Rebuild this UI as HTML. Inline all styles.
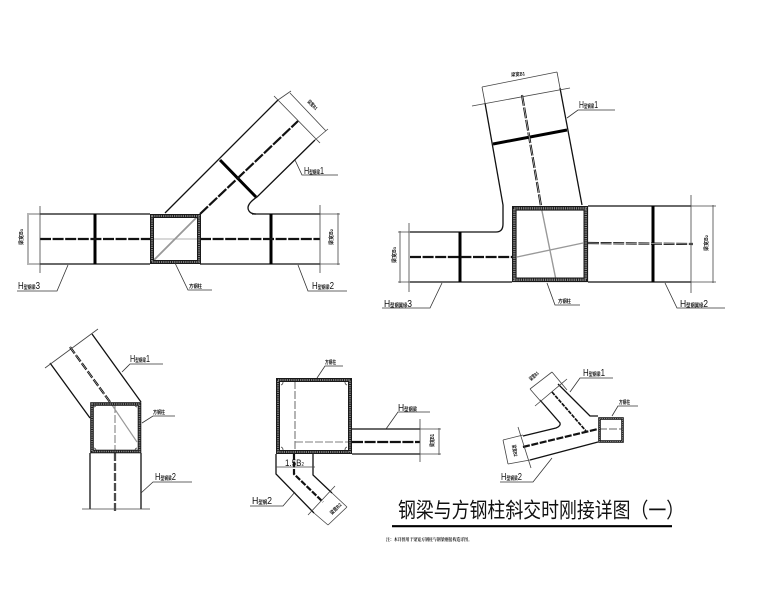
<!DOCTYPE html>
<html><head><meta charset="utf-8"><style>
html,body{margin:0;padding:0;background:#fff}
svg{display:block;filter:blur(.3px)}
text{font-family:"Liberation Sans","Noto Sans CJK SC",sans-serif;fill:#111}
.l{fill:none;stroke:#333;stroke-width:.8}
.b{fill:none;stroke:#111;stroke-width:1.3}
.t{fill:none;stroke:#000;stroke-width:3}
.th{fill:none;stroke:#444;stroke-width:.8}
.d{fill:none;stroke:#111;stroke-width:2.2;stroke-dasharray:11 1.6}
.dw{fill:none;stroke:#fff;stroke-width:.5}
.g{fill:none;stroke:#999;stroke-width:1.4}
.gd{fill:none;stroke:#999;stroke-width:1.3;stroke-dasharray:8 2}
.wa{fill:none;stroke:#1a1a1a}
.wb{fill:none;stroke:#888;stroke-dasharray:1.2 1}
.s{font-size:5px;font-weight:700}
.h{font-size:10px;font-weight:400}
</style></head><body>
<svg width="760" height="608" viewBox="0 0 760 608" xmlns="http://www.w3.org/2000/svg">
<rect width="760" height="608" fill="#fff"/>

<!-- Diagram 1 -->
<path class="b" d="M40 214H150M40 264H150M200 264H320M252 214H320"/>
<path class="b" d="M165 213L278 100M315 140L257 197Q245 205 249 211Q251 214 256 214"/>
<path class="t" d="M95 214V264M271 214V264M220 160L256 197"/>
<path class="d" d="M40 239H150M200 239H320M200 214L298 121"/>
<path class="g" style="stroke-width:1.8" d="M154 260L199 215"/>
<path class="th" style="stroke:#999" d="M154 239H197"/>
<rect class="wa" x="152" y="216" width="47" height="46" stroke-width="4"/>
<rect class="wb" x="152" y="216" width="47" height="46" stroke-width="1.8"/>
<path class="th" d="M40 206V273M320 205V273M29 214H40M29 264H40M320 214H340M320 264H340M28 213V265M338 213V265"/>
<path class="th" d="M274 96L320 143M278 100L291 91M315 140L328 129M290 93L326 131"/>
<path class="l" d="M68 265L57 291H17M175 263L188 290H212M298 265L308 291H347M295 160L302 175H338"/>
<text transform="translate(23 245) rotate(-90)" class="s" textLength="16" lengthAdjust="spacingAndGlyphs">梁宽B<tspan font-size="4">3</tspan></text>
<text transform="translate(333 245) rotate(-90)" class="s" textLength="16" lengthAdjust="spacingAndGlyphs">梁宽B<tspan font-size="4">2</tspan></text>
<text transform="translate(307 102) rotate(44)" class="s" textLength="12" lengthAdjust="spacingAndGlyphs">梁宽B1</text>
<text x="18" y="289" textLength="22" lengthAdjust="spacingAndGlyphs"><tspan class="h">H</tspan><tspan class="s">型钢梁</tspan><tspan class="h">3</tspan></text>
<text x="189" y="288" class="s" textLength="13" lengthAdjust="spacingAndGlyphs">方钢柱</text>
<text x="312" y="289" textLength="22" lengthAdjust="spacingAndGlyphs"><tspan class="h">H</tspan><tspan class="s">型钢梁</tspan><tspan class="h">2</tspan></text>
<text x="304" y="174" textLength="20" lengthAdjust="spacingAndGlyphs"><tspan class="h">H</tspan><tspan class="s">型钢梁</tspan><tspan class="h">1</tspan></text>

<!-- Diagram 2 -->
<path class="b" d="M588 206H691M588 282H691M410 282H512M410 232H496Q503 232 503 224V205L485 103M560 88L582 205"/>
<path class="t" d="M653 206V282M460 232V282M493 144L567 130"/>
<path class="d" d="M410 257H513M588 243L693 244M522 95L541 206"/>
<path class="dw" d="M588 243L693 244M522 95L541 206"/>
<path class="g" d="M517 257L583 243M541 206L556 280"/>
<rect class="wa" x="514.3" y="208.3" width="71.5" height="71.5" stroke-width="4.6"/>
<rect class="wb" x="514.3" y="208.3" width="71.5" height="71.5" stroke-width="2.4"/>
<path class="th" d="M472 106L570 88M482 87L485 103M557 72L560 88M482 87L557 72M409 223V292M398 232H410M398 282H410M400 231V283M691 195V293M691 206H716M691 282H716M713 205V283"/>
<path class="l" d="M442 283L430 308H382M547 283L555 305H580M665 283L677 308H725M567 118L578 110H615"/>
<text x="511" y="76" class="s" textLength="14" lengthAdjust="spacingAndGlyphs" transform="rotate(-5 517 74)">梁宽B1</text>
<text transform="translate(396 263) rotate(-90)" class="s" textLength="16" lengthAdjust="spacingAndGlyphs">梁宽B<tspan font-size="4">3</tspan></text>
<text transform="translate(708 251) rotate(-90)" class="s" textLength="16" lengthAdjust="spacingAndGlyphs">梁宽B<tspan font-size="4">2</tspan></text>
<text x="384" y="307" textLength="28" lengthAdjust="spacingAndGlyphs"><tspan class="h">H</tspan><tspan class="s">型钢翼缘</tspan><tspan class="h">3</tspan></text>
<text x="558" y="303" class="s" textLength="13" lengthAdjust="spacingAndGlyphs">方钢柱</text>
<text x="680" y="307" textLength="28" lengthAdjust="spacingAndGlyphs"><tspan class="h">H</tspan><tspan class="s">型钢翼缘</tspan><tspan class="h">2</tspan></text>
<text x="579" y="108" textLength="19" lengthAdjust="spacingAndGlyphs"><tspan class="h">H</tspan><tspan class="s">型钢梁</tspan><tspan class="h">1</tspan></text>

<!-- Diagram 3 -->
<path class="b" d="M50 363L90 418M92 334L141 402M90 453V509M141 453V509"/>
<path class="th" d="M82 509H150M45 368L98 329"/>
<path class="d" style="stroke-width:2.2;stroke-dasharray:8 2" d="M70 347L110 402M115 453V512"/>
<path class="dw" d="M70 347L110 402M115 453V512"/>
<path class="gd" style="stroke:#777;stroke-width:1" d="M115 405V453"/>
<path class="g" style="stroke-width:1.2" d="M112 405L137 442"/>
<rect class="wa" x="92" y="404" width="47.5" height="47.5" stroke-width="3.6"/>
<rect class="wb" x="92" y="404" width="47.5" height="47.5" stroke-width="1.6"/>
<path class="th" d="M94 407A2.5 2.5 0 0 0 96 405M137 407A2.5 2.5 0 0 1 135 405M94 448A2.5 2.5 0 0 1 96 450M137 448A2.5 2.5 0 0 0 135 450"/>
<path class="l" d="M122 372L130 364H163M142 423L153 416H175M141 493L153 482H192"/>
<text x="130" y="362" textLength="20" lengthAdjust="spacingAndGlyphs"><tspan class="h">H</tspan><tspan class="s">型钢梁</tspan><tspan class="h">1</tspan></text>
<text x="153" y="414" class="s" textLength="12" lengthAdjust="spacingAndGlyphs">方钢柱</text>
<text x="155" y="480" textLength="21" lengthAdjust="spacingAndGlyphs"><tspan class="h">H</tspan><tspan class="s">型钢梁</tspan><tspan class="h">2</tspan></text>

<!-- Diagram 4 -->
<path class="b" d="M352 429H420M352 454H420M276 454V474L314 513M313 454V475L332 493"/>
<path class="d" d="M352 442H420"/>
<path class="gd" d="M295 442H352"/>
<path class="gd" style="stroke:#777;stroke-width:1.1" d="M295 381V454"/>
<path class="d" style="stroke-width:2.2;stroke-dasharray:6 1.5" d="M294 454V474L323 502"/>
<rect class="wa" x="278" y="380" width="72" height="72" stroke-width="4"/>
<rect class="wb" x="278" y="380" width="72" height="72" stroke-width="1.8"/>
<path class="th" d="M281 385A3 3 0 0 0 283 382M347 385A3 3 0 0 1 345 382M281 447A3 3 0 0 1 283 450M347 447A3 3 0 0 0 345 450"/>
<path class="th" d="M420 419V462M420 429H441M420 454H441M439 428V455M276 467H315M308 515L335 486M314 513L328 525M332 493L347 507M328 525L347 507"/>
<path class="l" d="M317 378L325 366H343M386 429L398 412H430M295 492L283 506H250"/>
<text x="325" y="364" class="s" textLength="11" lengthAdjust="spacingAndGlyphs">方钢柱</text>
<text x="398" y="411" textLength="19" lengthAdjust="spacingAndGlyphs"><tspan class="h">H</tspan><tspan class="s">型钢梁</tspan></text>
<text x="252" y="504" textLength="20" lengthAdjust="spacingAndGlyphs"><tspan class="h">H</tspan><tspan class="s">型钢</tspan><tspan class="h">2</tspan></text>
<text x="285" y="466" font-size="9" textLength="19" lengthAdjust="spacingAndGlyphs">1.5B<tspan font-size="5">2</tspan></text>
<text transform="translate(434 447) rotate(-90)" class="s" textLength="13" lengthAdjust="spacingAndGlyphs">梁宽B1</text>
<text transform="translate(332 515) rotate(-45)" class="s" textLength="14" lengthAdjust="spacingAndGlyphs">梁宽B2</text>

<!-- Diagram 5 -->
<path class="b" d="M558 384L590 416H598M540 400L560 423Q561 426 556 428L523 436M530 460L598 442"/>
<path class="d" style="stroke-dasharray:7 1.6" d="M523 447L598 429"/>
<path class="gd" style="stroke:#666;stroke-width:1" d="M599 429H622"/>
<path class="d" style="stroke-width:1.7;stroke-dasharray:4 1" d="M552 392L586 431"/>
<rect class="wa" x="599.5" y="418.5" width="23" height="23" stroke-width="2.6"/>
<rect class="wb" x="599.5" y="418.5" width="23" height="23" stroke-width="1"/>
<path class="th" d="M518 427L531 468M503 440L508 464M503 440L523 435M508 464L530 460M530 389L552 372M530 389L543 404M552 372L567 390M535 406L567 379"/>
<path class="l" d="M570 392L580 378H613M612 416L618 406H638M552 458L533 482H500"/>
<text x="583" y="376" textLength="22" lengthAdjust="spacingAndGlyphs"><tspan class="h">H</tspan><tspan class="s">型钢梁</tspan><tspan class="h">1</tspan></text>
<text x="619" y="404" class="s" textLength="11" lengthAdjust="spacingAndGlyphs">方钢柱</text>
<text x="501" y="480" textLength="21" lengthAdjust="spacingAndGlyphs"><tspan class="h">H</tspan><tspan class="s">型钢梁</tspan><tspan class="h">2</tspan></text>
<text transform="translate(531 381) rotate(-42)" class="s" textLength="11" lengthAdjust="spacingAndGlyphs">梁宽B1</text>
<text transform="translate(512 445) rotate(80)" class="s" textLength="12" lengthAdjust="spacingAndGlyphs">梁宽B2</text>

<!-- Title -->
<text transform="translate(398 517.5) scale(1 1.18)" font-size="17.9" style="font-family:'Noto Sans CJK SC',sans-serif;font-weight:400">钢梁与方钢柱斜交时刚接详图（一）</text>
<path d="M392 526.2H672" stroke="#000" stroke-width="2.2" fill="none"/>
<text x="386" y="541" font-size="4.6" font-weight="700" textLength="86" lengthAdjust="spacingAndGlyphs" style="font-family:'Noto Serif CJK SC',serif">注：本详图用于梁宽方钢柱与钢梁刚接构造详图。</text>
</svg>
</body></html>
